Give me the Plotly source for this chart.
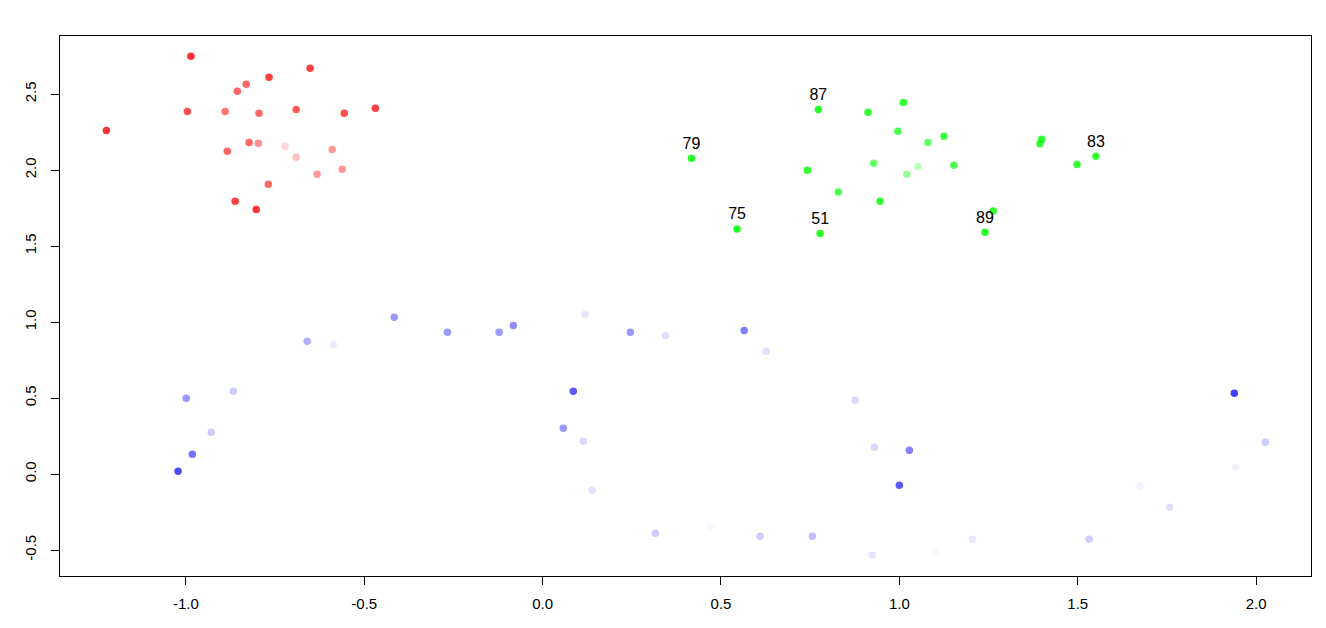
import plotly.graph_objects as go

# ---- data ----
red_x = [-0.986, -0.652, -0.767, -0.831, -0.856, -0.996, -0.890, -0.795, -0.691, -0.556, -0.469,
         -1.223, -0.823, -0.797, -0.722, -0.884, -0.691, -0.590, -0.562, -0.632, -0.769, -0.862, -0.803]
red_y = [2.748, 2.669, 2.610, 2.564, 2.518, 2.386, 2.386, 2.373, 2.399, 2.373, 2.406,
         2.261, 2.182, 2.176, 2.156, 2.123, 2.084, 2.136, 2.005, 1.972, 1.906, 1.794, 1.741]
red_a = [0.80, 0.75, 0.75, 0.60, 0.60, 0.70, 0.55, 0.60, 0.65, 0.70, 0.75,
         0.80, 0.60, 0.45, 0.15, 0.60, 0.25, 0.40, 0.40, 0.40, 0.60, 0.75, 0.80]

green_x = [0.773, 0.912, 1.011, 0.996, 1.080, 1.125, 1.399, 1.394, 1.551, 1.498, 0.417,
           0.742, 0.928, 1.052, 1.021, 1.153, 0.829, 0.946, 1.263, 0.545, 0.778, 1.240]
green_y = [2.399, 2.380, 2.445, 2.255, 2.182, 2.222, 2.202, 2.173, 2.090, 2.037, 2.077,
           1.998, 2.044, 2.024, 1.972, 2.031, 1.855, 1.794, 1.730, 1.612, 1.583, 1.590]
green_a = [0.85, 0.80, 0.80, 0.70, 0.60, 0.75, 0.80, 0.75, 0.80, 0.80, 0.85,
           0.80, 0.60, 0.25, 0.40, 0.70, 0.70, 0.80, 0.80, 0.85, 0.85, 0.85]
green_labels = ["87", "", "", "", "", "", "", "", "83", "", "79",
                "", "", "", "", "", "", "", "", "75", "51", "89"]

blue_x = [-0.416, -0.267, -0.122, -0.082, -0.660, -0.587, -0.867, -0.999, -0.929, -0.982, -1.022,
          0.119, 0.246, 0.344, 0.565, 0.627, 0.086, 0.058, 0.114, 0.139, 0.316, 0.470, 0.610,
          0.756, 0.876, 0.930, 1.028, 1.000, 0.924, 1.101, 1.205, 1.532, 1.675, 1.757, 1.939,
          2.026, 1.942]
blue_y = [1.031, 0.932, 0.932, 0.978, 0.873, 0.853, 0.544, 0.498, 0.274, 0.130, 0.018,
          1.051, 0.932, 0.912, 0.945, 0.807, 0.544, 0.301, 0.215, -0.107, -0.390, -0.344, -0.410,
          -0.410, 0.485, 0.176, 0.156, -0.074, -0.535, -0.509, -0.430, -0.430, -0.081, -0.219, 0.531,
          0.209, 0.044]
blue_a = [0.40, 0.40, 0.40, 0.45, 0.30, 0.08, 0.20, 0.40, 0.20, 0.55, 0.70,
          0.10, 0.40, 0.12, 0.50, 0.12, 0.65, 0.40, 0.15, 0.12, 0.20, 0.03, 0.20,
          0.25, 0.15, 0.15, 0.50, 0.65, 0.10, 0.03, 0.10, 0.20, 0.05, 0.12, 0.75,
          0.20, 0.05]

x_ticks = [-1.0, -0.5, 0.0, 0.5, 1.0, 1.5, 2.0]
y_ticks = [-0.5, 0.0, 0.5, 1.0, 1.5, 2.0, 2.5]

FONT = "Liberation Sans, Arial, sans-serif"


def rgba(rgb, a):
    return "rgba(%d,%d,%d,%.3f)" % (rgb[0], rgb[1], rgb[2], a)


fig = go.Figure()
fig.add_trace(go.Scatter(
    x=blue_x, y=blue_y, mode="markers",
    marker=dict(size=7.5, color=[rgba((0, 0, 255), a) for a in blue_a], line=dict(width=0)),
    showlegend=False, hoverinfo="x+y"))
fig.add_trace(go.Scatter(
    x=red_x, y=red_y, mode="markers",
    marker=dict(size=7.5, color=[rgba((255, 0, 0), a) for a in red_a], line=dict(width=0)),
    showlegend=False, hoverinfo="x+y"))
fig.add_trace(go.Scatter(
    x=green_x, y=green_y, mode="markers+text", text=green_labels,
    textposition="top center",
    textfont=dict(family=FONT, size=16, color="black"),
    marker=dict(size=7.5, color=[rgba((0, 255, 0), a) for a in green_a], line=dict(width=0)),
    showlegend=False, hoverinfo="x+y"))

axis_common = dict(
    showgrid=False, zeroline=False, showline=True, mirror=True,
    linecolor="black", linewidth=1, ticks="outside", ticklen=8,
    tickcolor="black", tickwidth=1,
    tickfont=dict(family=FONT, size=15, color="black"),
)

# the page body has an 8px default margin, so the figure is sized to fit the window
fig.update_layout(
    width=1318, height=620,
    margin=dict(l=52, r=15, t=28, b=52),
    paper_bgcolor="white", plot_bgcolor="white",
    xaxis=dict(range=[-1.353, 2.154], tickvals=x_ticks,
               ticktext=["%.1f" % v for v in x_ticks], ticklabelstandoff=6, **axis_common),
    yaxis=dict(range=[-0.671, 2.882], tickvals=y_ticks,
               ticktext=["%.1f" % v for v in y_ticks], tickangle=-90,
               ticklabelstandoff=9, **axis_common),
)

fig.write_html("out.html")
